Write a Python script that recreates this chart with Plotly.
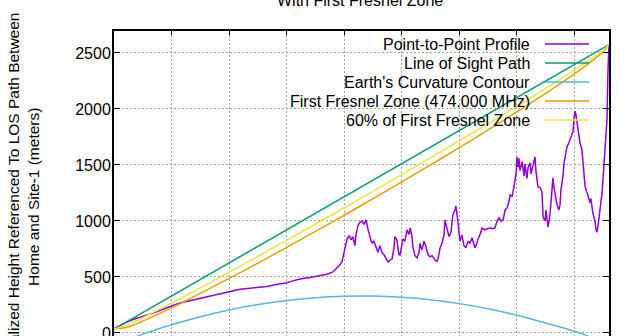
import plotly.graph_objects as go

# ---- data -------------------------------------------------------------
# distance along the path (km) and terrain height referenced to the LOS datum (m)
profile_km = [0, 1.4, 2.8, 4.5, 6.6, 9.0, 11.5, 13.6, 16.0, 18.4, 20.5, 22.9, 25.4, 27.5,
              29.9, 32.3, 34.4, 36.8, 40.3, 43.8, 47.3, 50.7, 53.2, 55.9, 58.7, 60.1, 62.2,
              64.6, 68.1, 71.6, 74.0, 76.1, 77.5, 78.5, 79.2, 79.9, 80.3, 80.6, 81.0, 81.7,
              82.4, 83.0, 83.7, 84.1, 84.8, 85.5, 86.2, 86.9, 87.6, 88.3, 89.0, 89.6, 90.3,
              91.0, 91.7, 92.4, 93.1, 93.8, 94.5, 95.2, 95.9, 96.6, 97.3, 97.6, 98.3, 99.0,
              99.4, 100.1, 100.4, 101.1, 101.8, 102.5, 102.9, 103.5, 103.9, 104.6, 105.3,
              106.0, 106.3, 107.0, 107.7, 108.4, 109.1, 109.8, 110.5, 111.5, 112.2, 112.6,
              113.3, 114.0, 114.7, 115.0, 115.7, 116.4, 117.1, 117.8, 118.5, 118.8, 119.5,
              120.2, 120.9, 121.6, 122.3, 123.0, 123.7, 124.4, 125.1, 125.4, 126.1, 126.5,
              127.2, 127.9, 128.9, 129.6, 130.7, 131.7, 132.4, 133.1, 133.8, 134.5, 135.2,
              135.9, 136.6, 137.3, 137.6, 138.3, 138.6, 139.3, 139.7, 140.0, 140.4, 140.7,
              141.1, 141.8, 142.5, 142.8, 143.5, 143.9, 144.6, 144.9, 145.6, 146.3, 146.6,
              147.3, 148.0, 148.7, 149.1, 149.8, 150.1, 150.8, 151.2, 151.5, 152.2, 152.5,
              152.9, 153.6, 153.9, 154.6, 155.0, 155.3, 156.0, 156.4, 157.1, 157.4, 158.1,
              158.4, 159.1, 159.5, 159.8, 160.2, 160.5, 160.9, 161.2, 161.9, 162.6, 163.0,
              163.7, 164.4, 164.7, 165.4, 165.7, 166.4, 167.1, 167.5, 167.8, 168.2, 168.9,
              169.6, 170.3, 170.6, 171.0, 171.3, 171.6, 172.0]
profile_m = [40, 60, 80, 98, 120, 143, 160, 179, 200, 223, 245, 268, 282, 295,
             308, 321, 335, 348, 366, 390, 400, 410, 415, 430, 440, 449, 465,
             482, 495, 509, 525, 545, 580, 610, 634, 714, 760, 786, 840, 870,
             830, 860, 780, 880, 960, 990, 1000, 970, 1010, 920, 860, 800, 820,
             760, 720, 780, 720, 700, 660, 634, 650, 660, 760, 860, 830, 700,
             697, 800, 840, 820, 920, 880, 937, 870, 760, 690, 670,
             720, 800, 740, 820, 770, 700, 680, 690, 652, 640, 660,
             760, 800, 880, 1009, 940, 860, 900, 1060, 1100, 1134, 1000,
             820, 875, 780, 760, 820, 800, 850, 790, 760, 800, 840,
             880, 937, 920, 930, 937, 930, 940, 1000, 1027, 1000, 1009,
             1098, 1116, 1180, 1232, 1220, 1250, 1366, 1420, 1571, 1480, 1560,
             1450, 1530, 1400, 1510, 1380, 1480, 1520, 1420, 1500, 1571, 1450,
             1304, 1300, 1259, 1036, 1000, 1100, 947, 1000, 1060, 1280, 1384,
             1300, 1188, 1150, 1098, 1150, 1277, 1400, 1518, 1600, 1661, 1700,
             1723, 1760, 1800, 1900, 1980, 1950, 1880, 1786, 1700, 1634, 1500,
             1304, 1250, 1230, 1161, 1200, 1072, 1000, 920, 900, 960, 1125,
             1250, 1518, 1620, 1750, 1902, 2300, 2580]

# straight line of sight between the two antennas
los_km = [0, 172]
los_m = [35, 2575]

# sampled curves along the path
curve_km = [0, 5, 10, 20, 30, 40, 50, 60, 70, 80, 90, 100, 110, 120, 130, 140, 150,
            160, 165, 170, 172]
earth_m = [-106, -58, -10, 73, 145, 205, 254, 290, 315, 328, 329, 318, 296, 262, 216,
           158, 89, 15, -30, -86, -106]
fresnel_m = [35, 54, 106, 224, 353, 487, 623, 764, 907, 1051, 1199, 1349, 1501, 1655,
             1813, 1974, 2140, 2314, 2407, 2510, 2575]
fresnel60_m = [35, 76, 137, 267, 403, 542, 683, 827, 972, 1117, 1265, 1414, 1564, 1716,
               1870, 2025, 2184, 2348, 2433, 2524, 2575]

series_names = ["Point-to-Point Profile", "Line of Sight Path", "Earth's Curvature Contour",
                "First Fresnel Zone (474.000 MHz)", "60% of First Fresnel Zone"]
series_colors = ["#9400d3", "#009e73", "#56b4e9", "#e69f00", "#f0e442"]

y_ticks = [0, 500, 1000, 1500, 2000, 2500]
x_ticks = [20, 40, 60, 80, 100, 120, 140, 160]

# ---- figure -----------------------------------------------------------
FONT = "Liberation Sans, Arial, sans-serif"
W, H = 640, 336
ML, MR, MT, MB = 114, 31, 31, 0
PW, PH = W - ML - MR, H - MT - MB


def px_x(px):
    return (px - ML) / PW


def px_y(py):
    return (H - MB - py) / PH


fig = go.Figure()
xs = [profile_km, los_km, curve_km, curve_km, curve_km]
ys = [profile_m, los_m, earth_m, fresnel_m, fresnel60_m]
for name, color, x, y in zip(series_names, series_colors, xs, ys):
    fig.add_trace(go.Scatter(x=x, y=y, mode="lines", name=name,
                             line=dict(color=color, width=1.5,
                                       shape="spline" if x is curve_km else "linear",
                                       smoothing=0.6),
                             showlegend=False, hoverinfo="skip"))

# key: opaque box over the grid, right-aligned labels with line samples
fig.add_shape(type="rect", xref="paper", yref="paper",
              x0=px_x(215), x1=1, y0=px_y(132), y1=1,
              fillcolor="white", line_width=0, layer="between")
key_rows = [44, 63, 82, 101, 120]
for name, color, row in zip(series_names, series_colors, key_rows):
    fig.add_annotation(text=name, xref="paper", yref="paper",
                       x=px_x(532), y=px_y(row), xanchor="right", yanchor="middle",
                       showarrow=False, font=dict(family=FONT, size=16, color="black"))
    fig.add_shape(type="line", xref="paper", yref="paper",
                  x0=px_x(545), x1=px_x(589), y0=px_y(row), y1=px_y(row),
                  line=dict(color=color, width=1.5), layer="above")

# title (only its last line falls inside the canvas)
fig.add_annotation(text="With First Fresnel Zone", xref="paper", yref="paper",
                   x=px_x(359.5), y=px_y(-10), xanchor="center", yanchor="top",
                   showarrow=False, font=dict(family=FONT, size=16, color="black"))

# rotated two-line y-axis title
fig.add_annotation(text="Normalized Height Referenced To LOS Path Between<br>Home and Site-1 (meters)",
                   xref="paper", yref="paper", x=px_x(23), y=px_y(197),
                   xanchor="center", yanchor="middle", textangle=-90, align="center",
                   showarrow=False, font=dict(family=FONT, size=15.5, color="black"))

fig.update_layout(
    width=W, height=H,
    margin=dict(l=ML, r=MR, t=MT, b=MB, autoexpand=False),
    paper_bgcolor="white", plot_bgcolor="white",
    font=dict(family=FONT, size=16, color="black"),
    xaxis=dict(range=[0, 172], side="top", tickvals=x_ticks, showticklabels=False,
               ticks="inside", ticklen=4, tickcolor="black", automargin=False,
               showline=True, linecolor="black", linewidth=2, mirror=False,
               showgrid=True, gridcolor="#a0a0a0", gridwidth=1, griddash="2px,2px",
               zeroline=False),
    yaxis=dict(range=[-27, 2696], tickvals=y_ticks, ticks="inside", ticklen=6,
               tickcolor="black", showline=True, linecolor="black", linewidth=2,
               mirror="ticks", showgrid=True, gridcolor="#a0a0a0", gridwidth=1,
               griddash="2px,2px", zeroline=False, ticklabeloverflow="allow",
               ticklabelstandoff=-2, automargin=False,
               tickfont=dict(family=FONT, size=16, color="black")),
)

fig.write_html("out.html")
